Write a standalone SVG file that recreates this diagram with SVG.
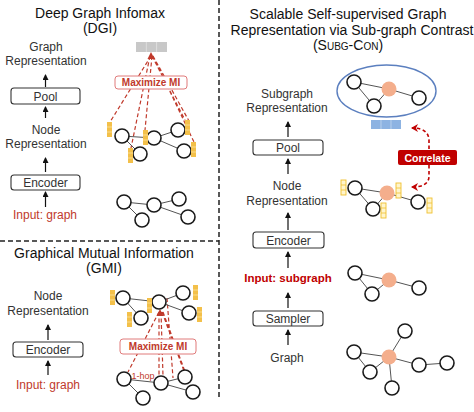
<svg xmlns="http://www.w3.org/2000/svg" width="474" height="412" viewBox="0 0 474 412">
<style>
text{font-family:"Liberation Sans",Arial,sans-serif}
.title{font-size:14px;fill:#111;text-anchor:middle}
.lbl{font-size:12px;fill:#333;text-anchor:middle}
.box{fill:#fff;stroke:#333;stroke-width:1.1}
.inp{font-size:12px;fill:#c0392b;text-anchor:middle}
.inpb{font-size:11.5px;fill:#c00000;font-weight:bold;text-anchor:middle}
.n{fill:#fff;stroke:#1a1a1a;stroke-width:1.6}
.o{fill:#f4ae8c}
.e{stroke:#555;stroke-width:1;fill:none}
.ar{stroke:#111;stroke-width:1.2;fill:none;marker-end:url(#ah)}
.rd{stroke:#c0392b;stroke-width:1.2;stroke-dasharray:4 2.5;fill:none}
.div{stroke:#222;stroke-width:1.5;stroke-dasharray:5 3;fill:none}
.mm{fill:#fff;stroke:#e07b7b;stroke-width:1}
.mmt{font-size:10px;font-weight:bold;fill:#c0392b;text-anchor:middle}
.cor{stroke:#c00000;stroke-width:1.6;stroke-dasharray:3.5 2.5;fill:none;marker-end:url(#rh)}
</style>
<defs>
<marker id="ah" markerWidth="6" markerHeight="6" refX="5" refY="3" orient="auto" markerUnits="userSpaceOnUse"><path d="M0,0 L6,3 L0,6 z" fill="#111"/></marker>
<marker id="rh" markerWidth="8" markerHeight="8" refX="6" refY="4" orient="auto" markerUnits="userSpaceOnUse"><path d="M0,0 L7,4 L0,8 L2,4 z" fill="#c00000"/></marker>
<g id="vg"><rect x="0" y="0" width="5" height="15" fill="#f3c04a"/><path d="M0,5H5M0,10H5" stroke="#fbe3a0" stroke-width="0.8"/></g>
<g id="vy"><rect x="0" y="0" width="5" height="15" fill="#fff5cc" stroke="#f0c030" stroke-width="0.9"/><path d="M0,5H5M0,10H5" stroke="#f0c030" stroke-width="0.8"/></g>
</defs>
<rect width="474" height="412" fill="#fff"/>

<g id="dividers">
<path class="div" d="M219,0 V400"/>
<path class="div" d="M0,241 H219"/>
</g>

<g id="titles">
<text class="title" x="100" y="18">Deep Graph Infomax</text>
<text class="title" x="100" y="33">(DGI)</text>
<text class="title" x="104" y="258">Graphical Mutual Information</text>
<text class="title" x="104" y="273">(GMI)</text>
<text class="title" x="348" y="19">Scalable Self-supervised Graph</text>
<text class="title" x="352" y="35">Representation via Sub-graph Contrast</text>
<text class="title" x="348" y="50" style="font-variant:small-caps">(Subg-Con)</text>
</g>

<g id="connectors">
<!-- DGI pipeline -->
<path class="ar" d="M45.5,87 V75"/>
<path class="ar" d="M45.5,118 V107"/>
<path class="ar" d="M45.5,172 V158"/>
<path class="ar" d="M45.5,207 V192"/>
<!-- GMI pipeline -->
<path class="ar" d="M48,340 V325"/>
<path class="ar" d="M48,375 V361"/>
<!-- Subg-Con pipeline -->
<path class="ar" d="M288,137 V122"/>
<path class="ar" d="M288,174 V159"/>
<path class="ar" d="M288,230 V213"/>
<path class="ar" d="M288,268 V252"/>
<path class="ar" d="M288,308 V293"/>
<path class="ar" d="M288,345 V330"/>
<!-- DGI MI lines -->
<path class="rd" d="M151,56 L110,122 M150,56 L131,148 M152,56 L145,130 M152,56 L185,120 M153,56 L189,121 M153,56 L194,142"/>
<polygon points="151,52 147.5,59 154.5,59" fill="#c0392b"/>
<!-- GMI MI lines -->
<path class="rd" d="M159,312 L128,372 M159,312 L159,376 M161,312 L163,376 M167,298 L173,378 M162,312 L184,371 M163,312 L190,385"/>
<polygon points="160,309 156.5,316 163.5,316" fill="#c0392b"/>
<!-- Correlate -->
<path class="cor" d="M429,149 V141 Q429,128 412,128"/>
<path class="cor" d="M429,165 V176 Q429,187 412,187"/>
</g>

<g id="dgi-pool"><rect class="box" x="11" y="88" width="69" height="16" rx="3"/><text class="lbl" x="45.5" y="100.5">Pool</text></g>
<g id="dgi-encoder"><rect class="box" x="11" y="175" width="69" height="15" rx="3"/><text class="lbl" x="45.5" y="187">Encoder</text></g>
<g id="dgi-labels">
<text class="lbl" x="46" y="51">Graph</text>
<text class="lbl" x="46" y="65">Representation</text>
<text class="lbl" x="46" y="134">Node</text>
<text class="lbl" x="46" y="148">Representation</text>
<text class="inp" x="45" y="219">Input: graph</text>
</g>

<g id="dgi-graphvec"><rect x="136" y="42" width="31" height="10" fill="#c8c8c8"/><path d="M146.3,42V52M156.6,42V52" stroke="#e2e2e2" stroke-width="0.8"/></g>
<g id="dgi-mi"><rect class="mm" x="115" y="76" width="72" height="13" rx="3"/><text class="mmt" x="151" y="86">Maximize MI</text></g>

<g id="dgi-noderep">
<path class="e" d="M122,136 L154,138 M122,136 L140,154 M154,138 L178,130 M154,138 L184,151"/>
<circle class="n" cx="122" cy="136" r="7"/><circle class="n" cx="140" cy="154" r="7"/><circle class="n" cx="154" cy="138" r="7"/><circle class="n" cx="178" cy="130" r="7"/><circle class="n" cx="184" cy="151" r="7"/>
<use href="#vg" x="107" y="122"/><use href="#vg" x="128" y="148"/><use href="#vg" x="143" y="130"/><use href="#vg" x="185" y="120"/><use href="#vg" x="191" y="142"/>
</g>
<g id="dgi-input">
<path class="e" d="M124,202 L154,205 M124,202 L142,220 M154,205 L179,199 M154,205 L188,217"/>
<circle class="n" cx="124" cy="202" r="7"/><circle class="n" cx="142" cy="220" r="7"/><circle class="n" cx="154" cy="205" r="7"/><circle class="n" cx="179" cy="199" r="7"/><circle class="n" cx="188" cy="217" r="7"/>
</g>

<g id="gmi-encoder"><rect class="box" x="13" y="342" width="70" height="15" rx="3"/><text class="lbl" x="48" y="354">Encoder</text></g>
<g id="gmi-labels">
<text class="lbl" x="48" y="300">Node</text>
<text class="lbl" x="48" y="315">Representation</text>
<text class="inp" x="48" y="389">Input: graph</text>
</g>
<g id="gmi-noderep">
<path class="e" d="M123,298 L159,302 M123,298 L141,318 M159,302 L183,293 M159,302 L189,313"/>
<circle class="n" cx="123" cy="298" r="7"/><circle class="n" cx="141" cy="318" r="7"/><circle class="n" cx="159" cy="302" r="7"/><circle class="n" cx="183" cy="293" r="7"/><circle class="n" cx="189" cy="313" r="7"/>
<use href="#vg" x="110" y="290"/><use href="#vg" x="127" y="312"/><use href="#vg" x="147" y="298"/><use href="#vg" x="193" y="285"/><use href="#vg" x="197" y="307"/>
</g>
<g id="gmi-mi"><rect class="mm" x="120" y="339" width="76" height="15" rx="3"/><text class="mmt" x="158" y="350">Maximize MI</text></g>
<g id="gmi-input">
<path class="e" d="M124,379 L161,383 M124,379 L143,398 M161,383 L185,377 M161,383 L193,392"/>
<circle class="n" cx="124" cy="379" r="7"/><circle class="n" cx="143" cy="398" r="7"/><circle class="n" cx="161" cy="383" r="7"/><circle class="n" cx="185" cy="377" r="7"/><circle class="n" cx="193" cy="392" r="7"/>
<text x="143" y="379" font-size="9" fill="#c0392b" text-anchor="middle">1-hop</text>
</g>

<g id="sub-labels">
<text class="lbl" x="287" y="98">Subgraph</text>
<text class="lbl" x="287" y="112">Representation</text>
<text class="lbl" x="287" y="190">Node</text>
<text class="lbl" x="287" y="205">Representation</text>
<text class="inpb" x="288" y="282">Input: subgraph</text>
<text class="lbl" x="287" y="362">Graph</text>
</g>
<g id="sub-pool"><rect class="box" x="253" y="140" width="70" height="15" rx="3"/><text class="lbl" x="288" y="152">Pool</text></g>
<g id="sub-encoder"><rect class="box" x="253" y="232" width="71" height="16" rx="3"/><text class="lbl" x="288.5" y="244.5">Encoder</text></g>
<g id="sub-sampler"><rect class="box" x="253" y="311" width="70" height="15" rx="3"/><text class="lbl" x="288" y="323">Sampler</text></g>

<g id="sub-subgraphrep">
<ellipse cx="386.5" cy="91" rx="49.5" ry="26" fill="none" stroke="#5b7fbf" stroke-width="1.4"/>
<path class="e" d="M354,82 L389,89 M354,82 L374,106 M374,106 L389,89 M389,89 L419,98"/>
<circle class="n" cx="354" cy="82" r="7"/><circle class="n" cx="374" cy="106" r="7"/><circle class="o" cx="389" cy="89" r="7.5"/><circle class="n" cx="419" cy="98" r="7"/>
</g>
<g id="sub-vec"><rect x="371" y="120" width="30" height="9" fill="#8db3e2"/><path d="M381,120V129M391,120V129" stroke="#c4d8f0" stroke-width="0.8"/></g>
<g id="correlate"><rect x="398" y="150" width="59" height="15" rx="2" fill="#c00000"/><text x="427.5" y="161.5" font-size="10.5" font-weight="bold" fill="#fff" text-anchor="middle">Correlate</text></g>

<g id="sub-noderep">
<path class="e" d="M355,188 L387,193 M355,188 L373,209 M373,209 L387,193 M387,193 L418,202"/>
<circle class="n" cx="355" cy="188" r="7"/><circle class="n" cx="373" cy="209" r="7"/><circle class="o" cx="387" cy="193" r="7.5"/><circle class="n" cx="418" cy="202" r="7"/>
<use href="#vy" x="341" y="180"/><use href="#vy" x="396" y="183"/><use href="#vy" x="381" y="203"/><use href="#vy" x="427" y="198"/>
</g>
<g id="sub-input">
<path class="e" d="M355,273 L389,280 M355,273 L372,294 M372,294 L389,280 M389,280 L419,288"/>
<circle class="n" cx="355" cy="273" r="7"/><circle class="n" cx="372" cy="294" r="7"/><circle class="o" cx="389" cy="280" r="7.5"/><circle class="n" cx="419" cy="288" r="7"/>
</g>
<g id="sub-graph">
<path class="e" d="M354,352 L389,357 M354,352 L370,372 M370,372 L389,357 M389,357 L405,331 M389,357 L419,365 M419,365 L447,363 M389,357 L392,388"/>
<circle class="n" cx="354" cy="352" r="7"/><circle class="n" cx="370" cy="372" r="7"/><circle class="o" cx="389" cy="357" r="7.5"/><circle class="n" cx="405" cy="331" r="7"/><circle class="n" cx="419" cy="365" r="7"/><circle class="n" cx="447" cy="363" r="7"/><circle class="n" cx="392" cy="388" r="7"/>
</g>
</svg>
